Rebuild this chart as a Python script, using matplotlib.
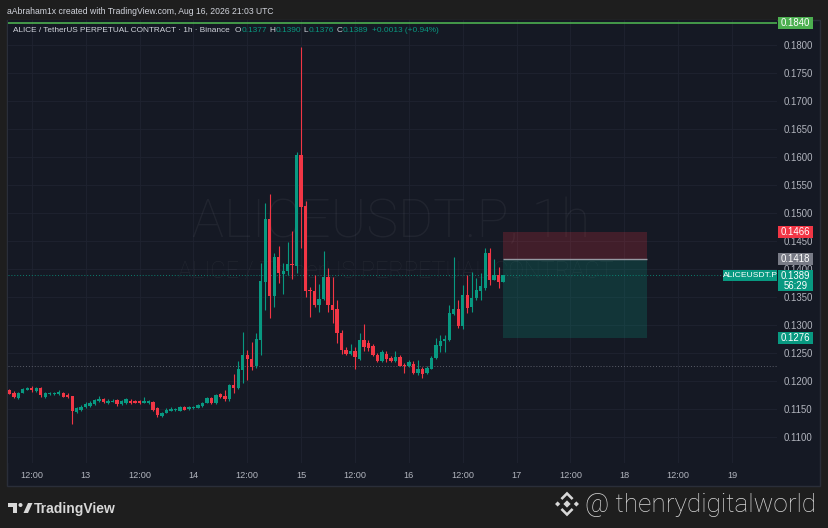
import matplotlib
matplotlib.use('Agg')
import matplotlib.pyplot as plt
from matplotlib.patches import Rectangle, Polygon, Circle
import numpy as np

plt.rcParams['font.family'] = ['Liberation Sans', 'DejaVu Sans']

# ALICEUSDT.P 1h candles, Aug 12 07:00 -> Aug 16 21:00 UTC
opens = [
    0.1183, 0.1178, 0.1170, 0.1179, 0.1184, 0.1188, 0.1182, 0.1188, 0.1171, 0.1176,
    0.1176, 0.1176, 0.1179, 0.1175, 0.1173, 0.1145, 0.1149, 0.1153, 0.1155, 0.1158,
    0.1164, 0.1167, 0.1160, 0.1163, 0.1166, 0.1158, 0.1160, 0.1164, 0.1164, 0.1164,
    0.1161, 0.1161, 0.1162, 0.1151, 0.1138, 0.1143, 0.1147, 0.1148, 0.1147, 0.1154,
    0.1150, 0.1151, 0.1152, 0.1155, 0.1161, 0.1169, 0.1161, 0.1176, 0.1173, 0.1167,
    0.1193, 0.1187, 0.1219, 0.1246, 0.1240, 0.1226, 0.1273, 0.1377, 0.1490, 0.1351,
    0.1422, 0.1391, 0.1396, 0.1409, 0.1405, 0.1603, 0.1512, 0.1362, 0.1361, 0.1335,
    0.1347, 0.1385, 0.1335, 0.1328, 0.1285, 0.1256, 0.1248, 0.1253, 0.1240, 0.1274,
    0.1267, 0.1263, 0.1246, 0.1235, 0.1249, 0.1241, 0.1235, 0.1243, 0.1229, 0.1227,
    0.1231, 0.1215, 0.1222, 0.1214, 0.1222, 0.1241, 0.1263, 0.1271, 0.1273, 0.1320,
    0.1328, 0.1299, 0.1353, 0.1332, 0.1348, 0.1360, 0.1366, 0.1428, 0.1381, 0.1390,
    0.1377,
]
highs = [
    0.1185, 0.1182, 0.1180, 0.1188, 0.1189, 0.1191, 0.1190, 0.1189, 0.1180, 0.1180,
    0.1181, 0.1183, 0.1181, 0.1179, 0.1174, 0.1153, 0.1157, 0.1162, 0.1164, 0.1167,
    0.1173, 0.1169, 0.1168, 0.1168, 0.1168, 0.1166, 0.1170, 0.1167, 0.1166, 0.1166,
    0.1171, 0.1166, 0.1164, 0.1153, 0.1145, 0.1151, 0.1153, 0.1152, 0.1156, 0.1156,
    0.1155, 0.1155, 0.1159, 0.1163, 0.1172, 0.1171, 0.1177, 0.1179, 0.1184, 0.1195,
    0.1213, 0.1235, 0.1288, 0.1255, 0.1270, 0.1285, 0.1410, 0.1517, 0.1534, 0.1428,
    0.1441, 0.1410, 0.1448, 0.1468, 0.1609, 0.1797, 0.1521, 0.1368, 0.1389, 0.1374,
    0.1432, 0.1401, 0.1385, 0.1344, 0.1291, 0.1260, 0.1266, 0.1261, 0.1285, 0.1301,
    0.1273, 0.1266, 0.1250, 0.1255, 0.1253, 0.1244, 0.1253, 0.1246, 0.1232, 0.1237,
    0.1235, 0.1237, 0.1225, 0.1226, 0.1244, 0.1276, 0.1283, 0.1283, 0.1335, 0.1422,
    0.1344, 0.1371, 0.1389, 0.1395, 0.1384, 0.1392, 0.1438, 0.1437, 0.1417, 0.1404,
    0.1390,
]
lows = [
    0.1176, 0.1169, 0.1168, 0.1178, 0.1183, 0.1181, 0.1180, 0.1172, 0.1170, 0.1175,
    0.1175, 0.1175, 0.1171, 0.1170, 0.1124, 0.1142, 0.1147, 0.1151, 0.1154, 0.1157,
    0.1163, 0.1160, 0.1158, 0.1162, 0.1155, 0.1157, 0.1158, 0.1159, 0.1160, 0.1159,
    0.1160, 0.1159, 0.1146, 0.1135, 0.1136, 0.1142, 0.1146, 0.1147, 0.1146, 0.1148,
    0.1149, 0.1150, 0.1151, 0.1154, 0.1160, 0.1159, 0.1159, 0.1169, 0.1165, 0.1165,
    0.1178, 0.1185, 0.1196, 0.1201, 0.1219, 0.1223, 0.1246, 0.1326, 0.1312, 0.1332,
    0.1375, 0.1356, 0.1389, 0.1383, 0.1392, 0.1438, 0.1350, 0.1314, 0.1332, 0.1323,
    0.1344, 0.1323, 0.1303, 0.1267, 0.1249, 0.1246, 0.1246, 0.1222, 0.1237, 0.1254,
    0.1253, 0.1244, 0.1234, 0.1234, 0.1234, 0.1234, 0.1233, 0.1226, 0.1215, 0.1225,
    0.1212, 0.1210, 0.1206, 0.1212, 0.1221, 0.1239, 0.1252, 0.1252, 0.1271, 0.1318,
    0.1295, 0.1292, 0.1321, 0.1323, 0.1344, 0.1344, 0.1362, 0.1372, 0.1380, 0.1366,
    0.1376,
]
closes = [
    0.1177, 0.1171, 0.1179, 0.1186, 0.1187, 0.1184, 0.1187, 0.1175, 0.1178, 0.1178,
    0.1178, 0.1180, 0.1172, 0.1172, 0.1147, 0.1151, 0.1154, 0.1159, 0.1161, 0.1166,
    0.1167, 0.1162, 0.1165, 0.1165, 0.1158, 0.1164, 0.1167, 0.1161, 0.1161, 0.1161,
    0.1164, 0.1164, 0.1148, 0.1139, 0.1143, 0.1149, 0.1150, 0.1150, 0.1154, 0.1149,
    0.1153, 0.1153, 0.1157, 0.1161, 0.1169, 0.1161, 0.1175, 0.1171, 0.1167, 0.1193,
    0.1187, 0.1221, 0.1246, 0.1240, 0.1225, 0.1275, 0.1379, 0.1490, 0.1351, 0.1422,
    0.1392, 0.1397, 0.1409, 0.1407, 0.1603, 0.1511, 0.1361, 0.1360, 0.1335, 0.1347,
    0.1386, 0.1335, 0.1326, 0.1285, 0.1255, 0.1249, 0.1254, 0.1242, 0.1274, 0.1261,
    0.1258, 0.1246, 0.1236, 0.1251, 0.1239, 0.1235, 0.1243, 0.1227, 0.1226, 0.1233,
    0.1215, 0.1222, 0.1213, 0.1223, 0.1241, 0.1264, 0.1271, 0.1275, 0.1321, 0.1328,
    0.1298, 0.1353, 0.1331, 0.1348, 0.1362, 0.1370, 0.1428, 0.1381, 0.1390, 0.1376,
    0.1389,
]
start_hour = 7  # hours after Aug 12 00:00

tick_hours = [12, 24, 36, 48, 60, 72, 84, 96, 108, 120, 132, 144, 156, 168]
tick_labels = ['12:00', '13', '12:00', '14', '12:00', '15', '12:00', '16',
               '12:00', '17', '12:00', '18', '12:00', '19']
price_ticks = [0.1100, 0.1150, 0.1200, 0.1250, 0.1300, 0.1350, 0.1400, 0.1450,
               0.1500, 0.1550, 0.1600, 0.1650, 0.1700, 0.1750, 0.1800]

top_line = 0.1840
prev_line = 0.1226
stop_price = 0.1466
entry_price = 0.1418
target_price = 0.1276
box_start, box_end = 116.9, 149.0

GREEN = '#089981'
RED = '#f23645'
BG = '#151924'
TXT = '#b2b5be'

W, H = 829, 528
fig = plt.figure(figsize=(W / 100, H / 100), dpi=100, facecolor='#1e1e1e')

# pixel-space overlay for frame, header and footer
bg = fig.add_axes([0, 0, 1, 1], zorder=0)
bg.set_xlim(0, W)
bg.set_ylim(H, 0)
bg.axis('off')
bg.add_patch(Rectangle((7, 19.5), 813, 466, fc=BG, ec='#2a2e39', lw=1))

# main chart
ax = fig.add_axes([8 / W, (H - 463) / H, 769 / W, 443 / H], zorder=1)
ax.set_facecolor(BG)
for s in ax.spines.values():
    s.set_visible(False)

o = np.array(opens)
h = np.array(highs)
l = np.array(lows)
c = np.array(closes)
hours = np.arange(len(o)) + start_hour
cols = np.where(c >= o, GREEN, RED)

ax.vlines(hours, l, h, colors=cols, lw=0.8, zorder=3)
ax.bar(hours, np.maximum(np.abs(c - o), 0.00004), bottom=np.minimum(o, c),
       width=0.75, color=cols, lw=0, zorder=3)

ax.set_xlim(6.7, 178.0)
ax.set_ylim(0.10535, 0.18447)
ax.set_xticks(tick_hours)
ax.set_xticklabels(tick_labels)
ax.set_yticks(price_ticks)
ax.set_yticklabels([f'{p:.4f}' for p in price_ticks])
ax.yaxis.tick_right()
ax.tick_params(axis='y', length=0, pad=5, labelsize=6.9, labelcolor=TXT)
ax.tick_params(axis='x', length=0, pad=6, labelsize=6.6, labelcolor=TXT)
ax.grid(color='#1f2330', lw=0.6)
ax.set_axisbelow(True)

# watermark
ax.text(0.498, 0.544, 'ALICEUSDT.P, 1h', transform=ax.transAxes, ha='center', va='center',
        fontsize=38.5, family='Roboto', fontweight='light', color='white', alpha=0.05, zorder=1)
ax.text(0.5045, 0.433, 'ALICE / TetherUS PERPETUAL CONTRACT', transform=ax.transAxes,
        ha='center', va='center', fontsize=17, family='Roboto', fontweight='light',
        color='white', alpha=0.05, zorder=1)

# lines
ax.axhline(top_line, color='#4caf50', lw=1.2, zorder=2)
ax.axhline(c[-1], color=GREEN, lw=0.7, ls=(0, (1, 2)), alpha=0.8, zorder=2)
ax.axhline(prev_line, color='#787b86', lw=0.7, ls=(0, (1, 2)), alpha=0.7, zorder=2)

# short position box
ax.add_patch(Rectangle((box_start, entry_price), box_end - box_start, stop_price - entry_price,
                       fc=RED, alpha=0.2, lw=0, zorder=2))
ax.add_patch(Rectangle((box_start, target_price), box_end - box_start, entry_price - target_price,
                       fc=GREEN, alpha=0.22, lw=0, zorder=2))
ax.hlines(entry_price, box_start, box_end, color='#9598a1', lw=1, zorder=4)

# price-axis tags
ytr = ax.get_yaxis_transform()
px_price = (0.18447 - 0.10535) / 443


def tag(price, text, color, x0=778, x1=813, hpx=12, tcol='white'):
    hh = hpx * px_price
    ax.add_patch(Rectangle(((x0 - 8) / 769, price - hh / 2), (x1 - x0) / 769, hh,
                           transform=ytr, fc=color, lw=0, clip_on=False, zorder=5))
    ax.text(((x0 + x1) / 2 - 8) / 769, price, text, transform=ytr, ha='center', va='center',
            fontsize=6.9, color=tcol, clip_on=False, zorder=6)


tag(top_line, f'{top_line:.4f}', '#4caf50')
tag(stop_price, f'{stop_price:.4f}', RED)
tag(entry_price, f'{entry_price:.4f}', '#787b86')
tag(target_price, f'{target_price:.4f}', GREEN)
# last price with countdown
hh = 21 * px_price
ax.add_patch(Rectangle(((778 - 8) / 769, c[-1] - 16 * px_price), 35 / 769, hh,
                       transform=ytr, fc=GREEN, lw=0, clip_on=False, zorder=5))
ax.text((795.5 - 8) / 769, c[-1] - 0.5 * px_price, f'{c[-1]:.4f}', transform=ytr, ha='center',
        va='center', fontsize=6.9, color='white', clip_on=False, zorder=6)
ax.text((795.5 - 8) / 769, c[-1] - 10.5 * px_price, '56:29', transform=ytr, ha='center',
        va='center', fontsize=6.9, color='white', clip_on=False, zorder=6)
ax.add_patch(Rectangle(((723 - 8) / 769, c[-1] - 5.5 * px_price), 54 / 769, 11 * px_price,
                       transform=ytr, fc=GREEN, lw=0, clip_on=False, zorder=5))
ax.text((750 - 8) / 769, c[-1], 'ALICEUSDT.P', transform=ytr, ha='center', va='center',
        fontsize=6.1, color='white', clip_on=False, zorder=6)

# foreground overlay (pixel coords) for the legend row
fg = fig.add_axes([0, 0, 1, 1], zorder=2)
fg.set_xlim(0, W)
fg.set_ylim(H, 0)
fg.axis('off')
fg.patch.set_alpha(0)

# header
bg.text(7, 11, 'aAbraham1x created with TradingView.com, Aug 16, 2026 21:03 UTC',
        fontsize=6.2, color='#d1d4dc', va='center')

# legend row
chg = c[-1] - c[-2]
pieces = [
    ('ALICE / TetherUS PERPETUAL CONTRACT · 1h · Binance', '#d1d4dc', 0),
    ('O', '#d1d4dc', 5), (f'{o[-1]:.4f}', GREEN, 0.3),
    ('H', '#d1d4dc', 2.5), (f'{h[-1]:.4f}', GREEN, 0.3),
    ('L', '#d1d4dc', 2.5), (f'{l[-1]:.4f}', GREEN, 0.3),
    ('C', '#d1d4dc', 2.5), (f'{c[-1]:.4f}', GREEN, 0.3),
    (f'{chg:+.4f} ({chg / c[-2] * 100:+.2f}%)', GREEN, 3.5),
]
renderer = fig.canvas.get_renderer()
xcur = 13
for txt, col, gap in pieces:
    xcur += gap
    t = fg.text(xcur, 30.5, txt, fontsize=5.95, color=col, va='center')
    xcur = t.get_window_extent(renderer).x1

# footer: TradingView logo
lc = '#d8d8d8'
bg.add_patch(Rectangle((8, 503), 9, 3.5, fc=lc, lw=0))
bg.add_patch(Rectangle((13, 503), 4, 10, fc=lc, lw=0))
bg.add_patch(Circle((20.5, 505), 2, fc=lc, lw=0))
bg.add_patch(Polygon([(23.5, 513), (28, 503), (32.5, 503), (28, 513)], fc=lc, lw=0))
bg.text(34, 508.5, 'TradingView', fontsize=10, fontweight='bold', color=lc, va='center')

# footer: Binance mark + handle
cx, cy, s = 567, 504, 13


def diamond(x, y, r):
    return Polygon([(x, y - r), (x + r, y), (x, y + r), (x - r, y)], fc=lc, lw=0)


bg.add_patch(diamond(cx, cy, 0.28 * s))
bg.add_patch(diamond(cx - 0.72 * s, cy, 0.2 * s))
bg.add_patch(diamond(cx + 0.72 * s, cy, 0.2 * s))
for sg in (-1, 1):
    pts = [(-0.5, -0.45), (0, -0.95), (0.5, -0.45), (0.36, -0.31), (0, -0.67), (-0.36, -0.31)]
    bg.add_patch(Polygon([(cx + px * s, cy + sg * py * s) for px, py in pts], fc=lc, lw=0))

bg.text(585, 505, '@ thenrydigitalworld', fontsize=18.8, family='Roboto', fontweight='light',
        color=lc, va='center')

fig.savefig('out.png', dpi=100, facecolor=fig.get_facecolor())
